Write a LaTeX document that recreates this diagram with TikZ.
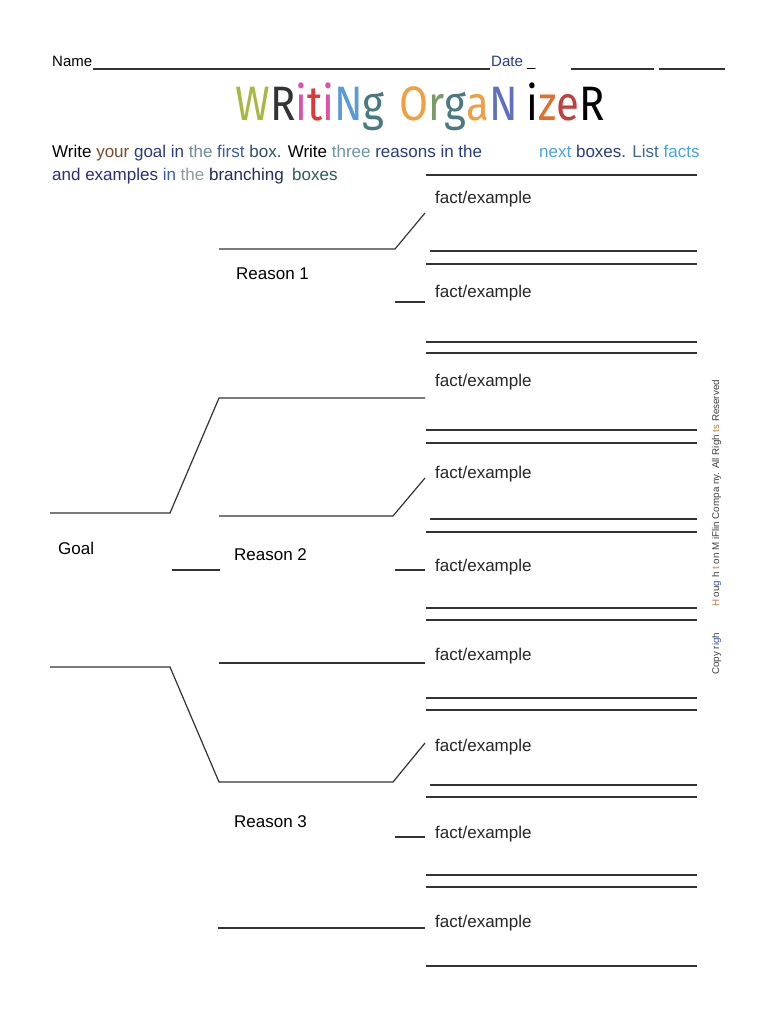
\documentclass[tikz,border=0pt]{standalone}
\usepackage{fontspec}
\usepackage{graphicx}
\setmainfont{Liberation Sans}
\newfontfamily\titlefont{Fira Sans}
\definecolor{ink}{HTML}{333333}
\definecolor{brownc}{HTML}{7B4A2A}
\definecolor{navyc}{HTML}{283C84}
\definecolor{grayteal}{HTML}{6F8C96}
\definecolor{bluec}{HTML}{3A5CA8}
\definecolor{tealdark}{HTML}{2D5060}
\definecolor{threec}{HTML}{6D97A0}
\definecolor{lightbluec}{HTML}{4BA3E3}
\definecolor{listc}{HTML}{3B6B95}
\definecolor{andc}{HTML}{2B2F78}
\definecolor{thegray}{HTML}{8C9BA0}
\definecolor{branchc}{HTML}{1F2A5E}
\definecolor{boxesc}{HTML}{2E5C5A}
\definecolor{olivec}{HTML}{A8B840}
\definecolor{pinkc}{HTML}{E050A8}
\definecolor{redc}{HTML}{E03838}
\definecolor{skyc}{HTML}{5A9AD8}
\definecolor{tealg}{HTML}{4A7A80}
\definecolor{orangec}{HTML}{F0A040}
\definecolor{greenc}{HTML}{7A9A6A}
\definecolor{purplec}{HTML}{6070C0}
\definecolor{zc}{HTML}{E07030}
\definecolor{ec}{HTML}{C04040}
\definecolor{copyor}{HTML}{C08040}
\begin{document}
\begin{tikzpicture}[x=1pt,y=-1pt,
  rule/.style={draw=ink,line width=1.2pt},
  body/.style={anchor=base west,inner sep=0pt,font=\fontsize{17}{20}\selectfont},
  head/.style={anchor=base west,inner sep=0pt,font=\fontsize{15}{18}\selectfont},
  fact/.style={body,text=black!85},
  copyr/.style={anchor=base west,inner sep=0pt,rotate=90,font=\fontsize{9.8}{11}\selectfont,text=black!75}]
\useasboundingbox[fill=white] (0,0) rectangle (768,1024);

% header
\node[head] (name) at (52,67) {Name};
\draw[rule] (93,69) -- (490,69);
\node[head] (date) at (491,67) {\textcolor{navyc}{Date} \_};
\draw[rule] (571,69) -- (654,69);
\draw[rule] (659,69) -- (725,69);

% title
\node[inner sep=0pt] (title) at (420,107) {\resizebox*{369pt}{48pt}{\titlefont
  \textcolor{olivec}{W}\textcolor{ink}{R}\textcolor{pinkc}{i}\textcolor{redc}{t}\textcolor{pinkc}{i}\textcolor{skyc}{N}\textcolor{tealg}{g}\hspace{0.35em}%
  \textcolor{orangec}{O}\textcolor{greenc}{r}\textcolor{tealg}{g}\textcolor{orangec}{a}\textcolor{purplec}{N}\hspace{0.2em}%
  \textcolor{black}{i}\textcolor{zc}{z}\textcolor{ec}{e}\textcolor{black}{R}}};

% instructions
\node[body] (ins1) at (52,158) {Write \textcolor{brownc}{your} \textcolor{navyc}{goal in} \textcolor{grayteal}{the} \textcolor{bluec}{first} \textcolor{tealdark}{box.} Write \textcolor{threec}{three} \textcolor{navyc}{reasons in the}};
\node[body] (ins2) at (539,158) {\textcolor{lightbluec}{next} \textcolor{navyc}{boxes.} \textcolor{listc}{List} \textcolor{lightbluec}{facts}};
\node[body] (ins3) at (52,181) {\textcolor{andc}{and examples} \textcolor{bluec}{in} \textcolor{thegray}{the} \textcolor{branchc}{branching}\enspace\textcolor{boxesc}{boxes}};

% right-hand rules
\foreach \yy in {175,264,342,353,430,443,532,608,620,698,710,797,875,887,966}
  \draw[rule] (426,\yy) -- (697,\yy);
\foreach \yy in {251,519,785}
  \draw[rule] (430,\yy) -- (697,\yy);

% fact/example labels
\foreach \yy [count=\i] in {204,297,386,478,571,660,751,838,927}
  \node[fact] (fact\i) at (435,\yy) {fact/example};

% short stubs
\draw[rule] (395,302) -- (425,302);
\draw[rule] (395,570) -- (425,570);
\draw[rule] (395,837) -- (425,837);
\draw[rule] (172,570) -- (220,570);

% branches
\draw[rule] (219,249) -- (395,249) -- (425,213);
\draw[rule] (50,513) -- (170,513) -- (219,398) -- (425,398);
\draw[rule] (219,516) -- (393,516) -- (425,478);
\draw[rule] (50,667) -- (170,667) -- (219,782) -- (393,782) -- (425,743);
\draw[rule] (219,663) -- (425,663);
\draw[rule] (218,928) -- (425,928);

% labels
\node[body] (goal) at (58,554) {Goal};
\node[body] (r1) at (236,279) {Reason 1};
\node[body] (r2) at (234,560) {Reason 2};
\node[body] (r3) at (234,827) {Reason 3};

% copyright
\node[copyr] (copy1) at (719,675) {Copy r\textcolor{bluec}{i}\textcolor{bluec}{g}h};
\node[copyr] (copy2) at (719,607)
  {\textcolor{copyor}{H} ou\textcolor{bluec}{g} h \textcolor{copyor}{t} on M iFlin Compa ny. All Righ \textcolor{copyor}{ts} Reserved};
\end{tikzpicture}
\end{document}
